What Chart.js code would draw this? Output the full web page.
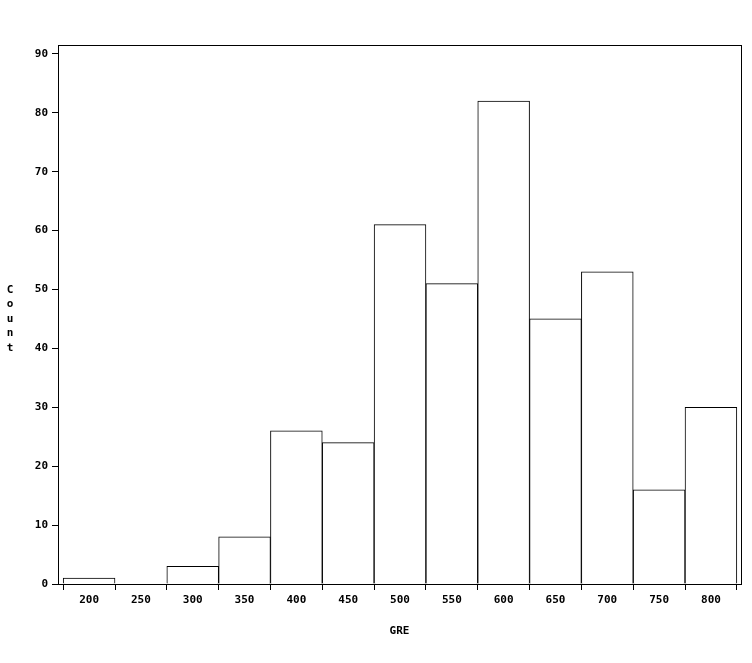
<!DOCTYPE html>
<html><head><meta charset="utf-8">
<script src="https://cdn.jsdelivr.net/npm/chart.js@4"></script>
<style>html,body{margin:0;background:#fff}#wrap{width:752px;height:663px}</style>
</head><body><div id="wrap"><canvas id="c"></canvas></div>
<script>
const categories = [200, 250, 300, 350, 400, 450, 500, 550, 600, 650, 700, 750, 800];
const counts = [1, 0, 3, 8, 26, 24, 61, 51, 82, 45, 53, 16, 30];
const xTicks = [200, 250, 300, 350, 400, 450, 500, 550, 600, 650, 700, 750, 800];
const yTicks = [0, 10, 20, 30, 40, 50, 60, 70, 80, 90];
const FONT = { family: "DejaVu Sans Mono", size: 11, weight: "bold" };

const frameAndTitles = {
  id: "frameAndTitles",
  afterDraw(chart) {
    const { ctx, chartArea: a } = chart;
    ctx.save();
    ctx.strokeStyle = "#000";
    ctx.lineWidth = 1;
    ctx.strokeRect(a.left + 0.5, a.top + 0.5, a.right - a.left, a.bottom - a.top);
    ctx.fillStyle = "#000";
    ctx.font = "bold 11px 'DejaVu Sans Mono'";
    ctx.textAlign = "center";
    ctx.textBaseline = "middle";
    ctx.fillText("GRE", (a.left + a.right) / 2, 631);
    const word = "Count";
    for (let i = 0; i < word.length; i++) ctx.fillText(word[i], 10, 290 + i * 14.5);
    ctx.restore();
  }
};

new Chart(document.getElementById("c"), {
  type: "bar",
  data: { datasets: [{ data: categories.map((c, i) => ({ x: c, y: counts[i] })), backgroundColor: "#fff", borderColor: "#000", borderWidth: 1, barPercentage: 1, categoryPercentage: 1 }] },
  options: {
    responsive: true, maintainAspectRatio: false, animation: false,
    layout: { padding: { top: 45, right: 11, left: 0, bottom: 0 } },
    plugins: { legend: { display: false }, tooltip: { enabled: false } },
    scales: {
      x: {
        type: "linear", min: 170, max: 829, offset: false,
        afterFit: (s) => { s.height = 79; },
        afterBuildTicks: (s) => { s.ticks = xTicks.map(v => ({ value: v })); },
        grid: { drawOnChartArea: false, tickLength: 6, color: "#000" },
        border: { color: "#000" },
        ticks: { color: "#000", font: FONT, maxRotation: 0, padding: 4 }
      },
      y: {
        min: 0, max: 91.5,
        afterFit: (s) => { s.width = 58; },
        afterBuildTicks: (s) => { s.ticks = yTicks.map(v => ({ value: v })); },
        grid: { drawOnChartArea: false, tickLength: 6, color: "#000" },
        border: { color: "#000" },
        ticks: { color: "#000", font: FONT, padding: 4 }
      }
    }
  },
  plugins: [frameAndTitles]
});
</script></body></html>
